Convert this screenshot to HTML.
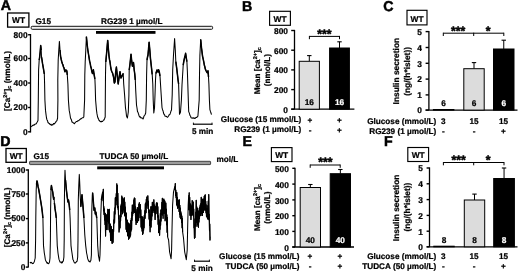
<!DOCTYPE html>
<html><head><meta charset="utf-8"><style>
html,body{margin:0;padding:0;background:#fff;width:520px;height:272px;overflow:hidden}
svg{display:block;filter:blur(0.3px)}
text{font-family:'Liberation Sans', Arial, sans-serif;fill:#000;stroke:#000;stroke-width:0.22px;text-rendering:geometricPrecision}
</style></head><body>
<svg width="520" height="272" viewBox="0 0 520 272">
<rect width="520" height="272" fill="#fff"/>
<text x="0.7" y="10.4" font-size="14.2" text-anchor="start" font-weight="bold"  style="stroke-width:0.5px">A</text>
<rect x="7.6" y="13" width="21.3" height="14.1" fill="none" stroke="#000" stroke-width="1.3" />
<text x="18.6" y="23.1" font-size="8.4" text-anchor="middle" font-weight="bold" >WT</text>
<text x="35.5" y="24.2" font-size="8.2" text-anchor="start" font-weight="bold" >G15</text>
<text x="101" y="24.2" font-size="8.2" text-anchor="start" font-weight="bold" >RG239 1 µmol/L</text>
<rect x="31.2" y="26.3" width="181.4" height="3.0" fill="#f0f0f0" stroke="#111" stroke-width="1.0" rx="1.0"/>
<rect x="96" y="31" width="59.5" height="2.8" fill="#000" stroke="none" stroke-width="0" />
<line x1="30.5" y1="34.0" x2="30.5" y2="132.5" stroke="#000" stroke-width="1.3"/>
<line x1="28.1" y1="34.75" x2="30.5" y2="34.75" stroke="#000" stroke-width="1.4"/>
<text x="27.6" y="37.55" font-size="8.4" text-anchor="end" font-weight="bold" >800</text>
<line x1="28.1" y1="58.5" x2="30.5" y2="58.5" stroke="#000" stroke-width="1.4"/>
<text x="27.6" y="61.3" font-size="8.4" text-anchor="end" font-weight="bold" >600</text>
<line x1="28.1" y1="83" x2="30.5" y2="83" stroke="#000" stroke-width="1.4"/>
<text x="27.6" y="85.8" font-size="8.4" text-anchor="end" font-weight="bold" >400</text>
<line x1="28.1" y1="107.5" x2="30.5" y2="107.5" stroke="#000" stroke-width="1.4"/>
<text x="27.6" y="110.3" font-size="8.4" text-anchor="end" font-weight="bold" >200</text>
<line x1="28.1" y1="131.8" x2="30.5" y2="131.8" stroke="#000" stroke-width="1.4"/>
<text x="27.6" y="134.60000000000002" font-size="8.4" text-anchor="end" font-weight="bold" >0</text>
<text transform="translate(9.9,81) rotate(-90)" font-size="8.2" font-weight="bold" text-anchor="middle">[Ca<tspan font-size="5.5" dy="-3">2+</tspan><tspan dy="3">]</tspan><tspan font-size="5.5" dy="1.5">c</tspan><tspan dy="-1.5"> (nmol/L)</tspan></text>
<polyline points="31.20,126.80 32.00,126.00 32.50,125.53 33.00,125.20 33.50,125.05 34.00,125.33 34.50,124.50 35.00,124.25 35.50,124.11 36.00,123.90 36.60,123.07 37.20,122.00 38.00,120.40 38.30,100.00 38.60,70.00 39.20,60.00 39.60,57.50 40.20,52.00 40.70,45.50 41.20,50.00 41.50,57.00 42.00,59.76 42.50,63.40 43.00,66.22 43.50,69.00 44.30,74.00 44.60,84.00 44.90,100.00 45.50,110.40 46.00,114.38 46.50,118.00 47.00,119.98 47.50,120.57 48.00,122.70 48.50,122.82 49.00,123.50 49.50,123.48 50.00,124.60 50.50,124.83 51.00,124.20 51.50,125.20 52.00,125.12 52.50,124.50 53.00,124.80 53.50,123.51 54.00,123.50 54.50,123.88 55.00,122.90 55.50,122.85 56.00,121.50 56.50,121.17 57.00,120.40 57.60,118.00 57.90,100.00 57.80,80.00 58.20,60.00 58.80,50.00 59.40,41.40 60.00,50.00 60.50,56.00 61.25,59.70 61.88,62.01 62.50,64.00 63.00,65.02 63.50,67.00 64.00,67.89 64.50,70.17 65.00,71.70 65.50,70.23 66.00,70.00 66.80,70.80 67.30,75.00 67.90,84.00 68.40,100.00 69.20,110.40 69.85,113.77 70.50,118.00 71.00,118.97 71.50,120.01 72.00,122.00 72.50,122.25 73.00,122.60 73.50,122.97 74.00,123.50 74.50,123.63 75.00,122.80 75.50,122.40 76.30,121.50 77.00,121.60 77.50,121.13 78.00,120.60 78.50,120.70 79.00,120.40 79.50,119.95 80.00,119.50 80.50,118.80 81.00,118.88 81.50,118.50 82.00,118.00 82.50,117.84 83.00,117.80 83.80,117.00 84.60,100.00 84.80,75.00 85.20,62.00 85.80,50.00 86.40,36.80 87.20,45.00 87.90,50.50 88.80,56.00 89.70,61.60 90.20,63.42 90.70,66.56 91.20,68.00 91.85,71.44 92.50,73.50 93.40,69.80 94.00,74.00 94.90,79.00 95.20,86.00 95.60,100.00 96.50,110.40 97.00,113.93 97.50,116.50 98.00,118.09 98.50,118.84 99.00,120.40 99.50,120.52 100.00,121.40 100.50,121.40 101.00,122.00 101.50,121.20 102.00,121.60 102.50,121.57 103.00,120.80 103.50,119.99 104.00,119.95 104.50,118.80 105.20,117.00 105.30,100.00 105.50,75.00 105.80,62.00 106.70,52.00 107.20,46.04 107.70,40.40 108.30,48.00 109.00,56.00 109.50,59.64 110.00,62.00 110.80,68.00 111.40,70.49 112.00,72.00 112.53,73.03 113.07,75.06 113.60,77.20 114.30,83.00 115.00,81.80 115.70,72.00 116.40,67.00 117.20,75.00 117.70,80.07 118.20,84.00 119.00,78.00 119.50,74.81 120.00,71.70 120.50,75.52 121.00,78.00 121.90,76.30 122.55,74.76 123.20,73.50 123.70,84.00 124.60,95.00 125.50,108.00 126.00,111.40 126.50,116.00 127.40,118.00 128.30,112.00 128.90,95.00 129.20,70.00 130.00,64.00 130.50,59.28 131.00,54.20 131.60,60.00 132.40,66.20 132.95,64.74 133.50,62.50 134.20,70.00 134.70,73.50 135.30,80.00 135.70,90.00 136.50,105.00 137.00,107.98 137.50,111.60 138.00,112.32 138.50,113.97 139.00,115.50 139.50,116.77 140.00,117.11 140.50,116.84 141.00,118.00 141.50,117.89 142.00,117.94 142.50,118.13 143.00,119.00 143.50,117.92 144.00,116.00 144.90,115.00 145.70,113.00 146.30,100.00 146.60,75.00 147.00,60.00 147.50,57.05 148.00,55.00 148.55,48.73 149.10,42.30 149.80,50.00 150.40,57.90 151.30,66.00 152.20,74.40 152.80,84.00 153.20,100.00 153.80,113.00 154.50,108.00 155.00,95.00 155.50,80.00 155.90,73.50 156.45,71.68 157.00,70.00 157.50,70.57 158.00,72.00 158.60,69.80 159.30,72.00 160.00,76.00 160.50,84.00 161.20,95.00 162.00,107.50 162.50,109.66 163.00,110.65 163.50,113.00 164.00,114.27 164.50,114.60 165.00,116.20 165.50,116.29 166.00,116.20 166.50,116.48 167.00,117.00 167.50,117.33 168.00,116.76 168.50,116.00 169.10,114.86 169.70,114.81 170.30,113.40 170.90,111.29 171.50,110.00 172.20,95.00 172.70,70.00 173.50,55.00 174.60,38.60 175.30,50.00 175.80,61.60 176.30,65.15 176.80,69.00 177.50,75.00 178.05,80.00 178.60,84.00 179.10,100.00 179.50,114.30 180.00,113.35 180.50,112.00 181.40,100.00 182.00,85.00 183.20,65.20 183.85,61.04 184.50,58.00 185.05,56.34 185.60,53.30 186.30,58.00 186.90,61.60 187.40,72.00 187.80,84.00 188.30,100.00 188.70,111.60 189.35,113.15 190.00,115.50 190.50,115.99 191.00,117.55 191.50,118.00 192.00,117.89 192.50,117.98 193.00,118.40 193.53,117.80 194.05,117.83 194.57,118.52 195.10,118.40 195.80,117.59 196.50,117.50 197.20,116.99 197.90,116.20 199.20,100.00 199.50,75.00 199.90,55.00 200.70,39.50 201.50,48.00 202.00,51.82 202.50,56.00 203.15,58.93 203.80,62.00 204.30,64.98 204.80,66.64 205.30,69.00 206.20,71.00 207.10,72.60 208.00,70.80 208.50,77.00 208.90,84.00 209.40,100.00 209.90,109.70 210.45,111.45 211.00,113.00 211.50,114.60" fill="none" stroke="#000" stroke-width="1.05" stroke-linejoin="round"/>
<polyline points="39.20,60.00 39.60,57.50 40.20,52.00 40.70,45.50 41.20,50.00" fill="none" stroke="#000" stroke-width="1.5" stroke-linejoin="round"/>
<polyline points="41.50,57.00 42.00,59.76 42.50,63.40 43.00,66.22 43.50,69.00 44.30,74.00" fill="none" stroke="#000" stroke-width="1.5" stroke-linejoin="round"/>
<polyline points="60.00,50.00 60.50,56.00 61.25,59.70 61.88,62.01 62.50,64.00 63.00,65.02 63.50,67.00 64.00,67.89 64.50,70.17 65.00,71.70 65.50,70.23 66.00,70.00 66.80,70.80 67.30,75.00" fill="none" stroke="#000" stroke-width="1.5" stroke-linejoin="round"/>
<polyline points="86.40,36.80 87.20,45.00 87.90,50.50 88.80,56.00 89.70,61.60 90.20,63.42 90.70,66.56 91.20,68.00 91.85,71.44 92.50,73.50 93.40,69.80 94.00,74.00 94.90,79.00" fill="none" stroke="#000" stroke-width="1.5" stroke-linejoin="round"/>
<polyline points="105.80,62.00 106.70,52.00 107.20,46.04 107.70,40.40 108.30,48.00 109.00,56.00 109.50,59.64 110.00,62.00 110.80,68.00 111.40,70.49 112.00,72.00 112.53,73.03 113.07,75.06 113.60,77.20 114.30,83.00 115.00,81.80 115.70,72.00 116.40,67.00 117.20,75.00 117.70,80.07 118.20,84.00 119.00,78.00 119.50,74.81 120.00,71.70 120.50,75.52 121.00,78.00 121.90,76.30 122.55,74.76 123.20,73.50" fill="none" stroke="#000" stroke-width="1.5" stroke-linejoin="round"/>
<polyline points="129.20,70.00 130.00,64.00 130.50,59.28 131.00,54.20 131.60,60.00 132.40,66.20 132.95,64.74 133.50,62.50 134.20,70.00 134.70,73.50 135.30,80.00" fill="none" stroke="#000" stroke-width="1.5" stroke-linejoin="round"/>
<polyline points="147.00,60.00 147.50,57.05 148.00,55.00 148.55,48.73 149.10,42.30 149.80,50.00 150.40,57.90 151.30,66.00 152.20,74.40" fill="none" stroke="#000" stroke-width="1.5" stroke-linejoin="round"/>
<polyline points="155.90,73.50 156.45,71.68 157.00,70.00 157.50,70.57 158.00,72.00 158.60,69.80 159.30,72.00 160.00,76.00" fill="none" stroke="#000" stroke-width="1.5" stroke-linejoin="round"/>
<polyline points="175.80,61.60 176.30,65.15 176.80,69.00 177.50,75.00 178.05,80.00 178.60,84.00" fill="none" stroke="#000" stroke-width="1.5" stroke-linejoin="round"/>
<polyline points="183.20,65.20 183.85,61.04 184.50,58.00 185.05,56.34 185.60,53.30 186.30,58.00 186.90,61.60" fill="none" stroke="#000" stroke-width="1.5" stroke-linejoin="round"/>
<polyline points="200.70,39.50 201.50,48.00 202.00,51.82 202.50,56.00 203.15,58.93 203.80,62.00 204.30,64.98 204.80,66.64 205.30,69.00 206.20,71.00 207.10,72.60 208.00,70.80 208.50,77.00" fill="none" stroke="#000" stroke-width="1.5" stroke-linejoin="round"/>
<line x1="193" y1="124.2" x2="212.4" y2="124.2" stroke="#000" stroke-width="1.2"/>
<line x1="193.4" y1="122.6" x2="193.4" y2="124.8" stroke="#000" stroke-width="0.9"/>
<line x1="212" y1="122.6" x2="212" y2="124.8" stroke="#000" stroke-width="0.9"/>
<text x="202.6" y="133.6" font-size="8.2" text-anchor="middle" font-weight="bold" >5 min</text>
<text x="0.3" y="145.6" font-size="14.2" text-anchor="start" font-weight="bold"  style="stroke-width:0.5px">D</text>
<rect x="6" y="148.5" width="20.3" height="13.8" fill="none" stroke="#000" stroke-width="1.3" />
<text x="16.2" y="158.8" font-size="8.4" text-anchor="middle" font-weight="bold" >WT</text>
<text x="33.5" y="158.8" font-size="8.2" text-anchor="start" font-weight="bold" >G15</text>
<text x="99.6" y="158.8" font-size="8.2" text-anchor="start" font-weight="bold" >TUDCA 50 µmol/L</text>
<text x="216.4" y="162.3" font-size="8.2" text-anchor="start" font-weight="bold" >mol/L</text>
<rect x="29.6" y="161.3" width="181.0" height="3.3" fill="#9c9c9c" stroke="#333" stroke-width="0.9" rx="0.6"/>
<rect x="97.2" y="166.4" width="66.8" height="2.9" fill="#000" stroke="none" stroke-width="0" />
<line x1="28.3" y1="169.3" x2="28.3" y2="267.5" stroke="#000" stroke-width="1.3"/>
<line x1="25.9" y1="170" x2="28.3" y2="170" stroke="#000" stroke-width="1.4"/>
<text x="25.4" y="172.8" font-size="8.4" text-anchor="end" font-weight="bold" >1000</text>
<line x1="25.9" y1="194" x2="28.3" y2="194" stroke="#000" stroke-width="1.4"/>
<text x="25.4" y="196.8" font-size="8.4" text-anchor="end" font-weight="bold" >750</text>
<line x1="25.9" y1="218.6" x2="28.3" y2="218.6" stroke="#000" stroke-width="1.4"/>
<text x="25.4" y="221.4" font-size="8.4" text-anchor="end" font-weight="bold" >500</text>
<line x1="25.9" y1="242.9" x2="28.3" y2="242.9" stroke="#000" stroke-width="1.4"/>
<text x="25.4" y="245.70000000000002" font-size="8.4" text-anchor="end" font-weight="bold" >250</text>
<line x1="25.9" y1="267.1" x2="28.3" y2="267.1" stroke="#000" stroke-width="1.4"/>
<text x="25.4" y="269.90000000000003" font-size="8.4" text-anchor="end" font-weight="bold" >0</text>
<text transform="translate(9.7,217.4) rotate(-90)" font-size="8.2" font-weight="bold" text-anchor="middle">[Ca<tspan font-size="5.5" dy="-3">2+</tspan><tspan dy="3">]</tspan><tspan font-size="5.5" dy="1.5">c</tspan><tspan dy="-1.5"> (nmol/L)</tspan></text>
<polyline points="30.00,262.00 30.60,262.91 31.20,262.36 31.80,262.72 32.40,263.60 33.03,263.56 33.67,262.81 34.30,261.75 35.20,258.00 35.60,240.00 35.80,218.00 36.20,190.00 36.50,184.50 37.00,180.90 37.50,183.00 38.00,186.40 38.50,188.35 39.00,191.00 39.80,195.60 40.70,201.00 41.60,206.60 42.30,212.00 42.90,218.00 43.50,245.60 44.30,253.00 44.80,255.77 45.30,259.40 45.90,261.04 46.50,262.00 47.00,263.15 47.50,262.64 48.00,263.60 48.50,263.70 49.00,263.07 49.50,262.00 50.00,258.00 50.40,240.00 50.60,210.00 51.00,190.00 51.40,185.50 52.00,189.00 52.70,191.90 53.60,199.25 54.00,197.00 54.40,203.00 55.00,208.40 55.70,213.00 56.30,218.00 57.25,245.60 58.00,253.00 58.50,256.34 59.00,259.40 59.50,260.59 60.00,262.00 60.65,261.95 61.30,263.00 61.80,261.90 62.30,262.75 62.80,261.28 63.30,261.20 63.90,257.00 64.20,240.00 64.40,200.00 64.70,180.00 65.00,170.20 65.50,180.00 66.40,190.00 67.10,196.00 67.90,202.00 68.50,200.00 69.20,204.80 69.70,210.00 70.10,218.00 71.00,245.60 71.50,249.59 72.00,253.00 72.90,259.40 73.45,260.36 74.00,262.00 74.65,262.95 75.30,263.00 75.90,262.54 76.50,261.51 77.10,261.20 77.70,257.00 78.00,240.00 78.30,200.00 78.80,185.00 79.30,174.40 79.80,185.00 80.20,195.60 80.80,206.60 81.40,200.00 82.00,194.70 82.70,203.00 83.30,210.00 83.90,218.00 84.80,235.00 85.70,245.60 86.60,253.00 87.10,255.25 87.60,258.40 88.30,260.26 89.00,261.50 89.50,261.20 90.00,262.10 90.90,260.30 91.40,255.00 91.60,235.00 91.80,210.00 92.30,195.00 92.60,192.80 93.20,200.00 94.00,210.30 94.80,208.00 95.30,214.00 95.90,212.10 96.40,216.00 96.80,218.00 97.70,245.60 98.50,256.00 99.00,258.22 99.50,261.20 100.00,255.00 100.40,240.00 100.80,215.00 101.40,200.00 102.10,196.03 102.80,191.90 103.05,200.76 103.30,189.35 103.55,210.83 103.80,206.64 104.05,214.41 104.30,208.78 104.55,220.02 104.80,213.32 105.05,224.40 105.30,213.27 105.55,235.94 105.80,214.37 106.05,229.40 106.30,221.08 106.55,227.94 106.80,215.41 107.05,229.58 107.30,214.31 107.55,221.31 107.80,209.37 108.05,220.83 108.30,209.69 108.55,222.98 108.80,215.06 109.05,229.81 109.31,209.35 109.56,231.27 109.81,224.70 110.06,232.28 110.31,224.11 110.56,240.40 110.81,226.02 111.06,239.85 111.31,226.48 111.56,240.58 111.81,233.19 112.06,243.19 112.31,229.49 112.56,242.87 112.81,236.33 113.06,242.28 113.31,229.95 113.56,231.79 113.81,219.85 114.06,223.61 114.31,211.47 114.56,222.50 114.81,207.89 115.06,213.99 115.31,197.90 115.56,207.35 115.81,197.39 116.06,204.74 116.31,193.53 116.56,197.85 116.81,183.89 117.06,200.50 117.31,185.38 117.56,207.48 117.81,193.19 118.06,209.13 118.31,206.29 118.56,218.78 118.81,215.59 119.06,231.98 119.31,226.62 119.56,229.31 119.81,221.45 120.06,227.76 120.31,214.91 120.56,221.07 120.81,205.88 121.06,216.75 121.31,204.05 121.56,210.92 121.81,196.01 122.06,205.58 122.32,197.63 122.57,213.78 122.82,198.17 123.07,212.34 123.32,200.52 123.57,208.18 123.82,199.22 124.07,209.81 124.32,197.88 124.57,215.36 124.82,202.06 125.07,216.10 125.32,206.90 125.57,219.72 125.82,215.18 126.07,229.13 126.32,213.09 126.57,231.60 126.82,220.41 127.07,228.97 127.32,220.17 127.57,235.80 127.82,222.46 128.07,233.18 128.32,223.13 128.57,239.13 128.82,228.66 129.07,236.91 129.32,223.91 129.57,237.97 129.82,226.17 130.07,236.72 130.32,225.55 130.57,235.28 130.82,220.33 131.07,230.96 131.32,218.17 131.57,229.45 131.82,212.00 132.07,220.13 132.32,205.11 132.57,215.73 132.82,206.76 133.07,213.48 133.32,205.20 133.57,211.82 133.82,199.84 134.07,209.97 134.32,198.09 134.57,212.41 134.82,198.37 135.07,209.06 135.33,206.57 135.58,220.32 135.83,211.92 136.08,224.45 136.33,214.99 136.58,221.40 136.83,209.52 137.08,222.53 137.33,207.59 137.58,221.89 137.83,209.31 138.08,219.83 138.33,208.56 138.58,220.51 138.83,203.98 139.08,217.61 139.33,202.67 139.58,212.66 139.83,205.85 140.08,212.64 140.33,204.59 140.58,217.65 140.83,209.89 141.08,227.03 141.33,217.33 141.58,228.23 141.83,216.59 142.08,231.09 142.33,224.26 142.58,234.49 142.83,217.01 143.08,233.31 143.33,223.14 143.58,230.17 143.83,219.23 144.08,227.68 144.33,215.35 144.58,219.03 144.83,210.63 145.08,218.15 145.33,203.90 145.58,213.57 145.83,202.85 146.08,212.43 146.33,199.32 146.58,207.59 146.83,196.95 147.08,204.93 147.33,198.05 147.58,204.70 147.83,195.75 148.08,208.39 148.34,201.13 148.59,212.52 148.84,209.54 149.09,219.08 149.34,209.95 149.59,225.55 149.84,214.72 150.09,231.82 150.34,218.02 150.59,226.76 150.84,206.70 151.09,227.05 151.34,211.70 151.59,220.21 151.84,206.43 152.09,215.90 152.34,202.34 152.59,212.36 152.84,203.16 153.09,209.04 153.34,202.87 153.59,210.19 153.84,199.78 154.09,212.59 154.34,204.74 154.59,212.81 154.84,206.00 155.09,219.37 155.34,206.95 155.59,214.27 155.84,206.76 156.09,213.55 156.34,203.58 156.59,208.55 156.84,202.49 157.09,208.73 157.34,203.22 157.59,216.96 157.84,206.67 158.09,224.29 158.34,215.56 158.59,232.56 158.84,219.76 159.09,232.67 159.34,221.95 159.59,235.19 159.84,222.56 160.09,229.18 160.34,213.61 160.59,225.25 160.84,209.96 161.09,221.05 161.35,209.21 161.60,213.08 161.85,202.23 162.10,214.47 162.35,198.29 162.60,215.11 162.85,201.57 163.10,218.34 163.35,199.47 163.60,209.18 163.85,199.00 164.10,213.15 164.35,200.35 164.60,212.64 164.85,200.96 165.10,220.82 165.35,207.60 165.60,219.34 165.85,202.96 166.10,217.18 166.35,208.96 166.60,224.80 166.85,214.76 167.10,232.17 167.35,217.22 167.60,236.85 168.60,240.00 169.60,252.00 171.10,258.80 171.60,250.00 172.00,230.00 172.60,205.00 173.50,192.00 174.80,186.40 175.05,189.86 175.30,183.59 175.55,195.37 175.81,190.03 176.06,197.36 176.31,193.63 176.56,204.50 176.81,192.57 177.06,205.78 177.32,197.16 177.57,208.18 177.82,199.84 178.07,206.47 178.32,200.61 178.57,207.26 178.83,202.83 179.08,211.49 179.33,199.75 179.58,214.15 179.83,205.26 180.08,217.25 180.34,207.92 180.59,218.29 180.84,211.87 181.09,218.70 181.34,213.69 181.59,222.48 181.85,215.92 182.10,227.81 182.35,218.15 182.60,231.69 183.50,238.00 184.70,252.00 186.30,259.70 187.20,250.00 187.60,230.00 188.20,205.00 188.70,195.40 188.95,209.75 189.20,192.74 189.45,209.53 189.70,197.36 189.95,215.24 190.20,203.57 190.45,215.53 190.70,204.65 190.96,219.41 191.21,205.97 191.46,214.61 191.71,206.83 191.96,215.33 192.21,200.61 192.46,213.51 192.71,201.44 192.96,214.47 193.21,202.10 193.46,215.92 193.71,208.94 193.96,227.71 194.21,224.29 194.46,238.17 194.71,227.98 194.96,237.49 195.22,218.86 195.47,226.09 195.72,212.15 195.97,222.32 196.22,200.28 196.47,217.08 196.72,206.81 196.97,226.16 197.22,211.20 197.47,224.40 197.72,208.26 197.97,220.55 198.22,212.28 198.47,227.15 198.72,211.06 198.97,221.98 199.22,213.10 199.48,218.40 199.73,206.94 199.98,215.63 200.23,204.94 200.48,215.56 200.73,203.63 200.98,213.26 201.23,197.35 201.48,212.11 201.73,198.85 201.98,215.53 202.23,203.23 202.48,215.55 202.73,199.21 202.98,211.93 203.23,200.98 203.48,212.57 203.74,198.74 203.99,208.72 204.24,196.35 204.49,209.85 204.74,195.58 204.99,209.92 205.24,194.82 205.49,207.84 205.74,201.33 205.99,212.66 206.24,204.79 206.49,216.77 206.74,208.27 206.99,216.68 207.24,209.03 207.49,218.62 207.74,205.59 208.00,218.94 208.25,201.06 208.50,210.95 208.75,194.45 209.00,219.62 209.25,214.15 209.50,230.74 209.75,224.10 210.00,240.20 210.20,236.70" fill="none" stroke="#000" stroke-width="1.05" stroke-linejoin="round"/>
<polyline points="36.50,184.50 37.00,180.90 37.50,183.00 38.00,186.40 38.50,188.35 39.00,191.00 39.80,195.60 40.70,201.00 41.60,206.60 42.30,212.00 42.90,218.00" fill="none" stroke="#000" stroke-width="1.5" stroke-linejoin="round"/>
<polyline points="51.00,190.00 51.40,185.50 52.00,189.00 52.70,191.90 53.60,199.25 54.00,197.00" fill="none" stroke="#000" stroke-width="1.5" stroke-linejoin="round"/>
<polyline points="54.40,203.00 55.00,208.40 55.70,213.00 56.30,218.00" fill="none" stroke="#000" stroke-width="1.5" stroke-linejoin="round"/>
<polyline points="65.50,180.00 66.40,190.00 67.10,196.00 67.90,202.00 68.50,200.00 69.20,204.80 69.70,210.00" fill="none" stroke="#000" stroke-width="1.5" stroke-linejoin="round"/>
<polyline points="80.80,206.60 81.40,200.00 82.00,194.70 82.70,203.00 83.30,210.00 83.90,218.00" fill="none" stroke="#000" stroke-width="1.5" stroke-linejoin="round"/>
<polyline points="92.60,192.80 93.20,200.00 94.00,210.30 94.80,208.00 95.30,214.00 95.90,212.10 96.40,216.00 96.80,218.00" fill="none" stroke="#000" stroke-width="1.5" stroke-linejoin="round"/>
<polyline points="101.40,200.00 102.10,196.03 102.80,191.90" fill="none" stroke="#000" stroke-width="1.5" stroke-linejoin="round"/>
<polyline points="103.05,200.76 103.30,189.35 103.55,210.83 103.80,206.64 104.05,214.41 104.30,208.78 104.55,220.02 104.80,213.32 105.05,224.40 105.30,213.27 105.55,235.94 105.80,214.37 106.05,229.40 106.30,221.08 106.55,227.94 106.80,215.41 107.05,229.58 107.30,214.31 107.55,221.31 107.80,209.37 108.05,220.83 108.30,209.69 108.55,222.98 108.80,215.06 109.05,229.81 109.31,209.35 109.56,231.27 109.81,224.70 110.06,232.28 110.31,224.11 110.56,240.40 110.81,226.02 111.06,239.85 111.31,226.48 111.56,240.58 111.81,233.19 112.06,243.19 112.31,229.49 112.56,242.87 112.81,236.33 113.06,242.28 113.31,229.95 113.56,231.79 113.81,219.85 114.06,223.61 114.31,211.47 114.56,222.50 114.81,207.89 115.06,213.99 115.31,197.90 115.56,207.35 115.81,197.39 116.06,204.74 116.31,193.53 116.56,197.85 116.81,183.89 117.06,200.50 117.31,185.38 117.56,207.48 117.81,193.19 118.06,209.13 118.31,206.29 118.56,218.78 118.81,215.59 119.06,231.98 119.31,226.62 119.56,229.31 119.81,221.45 120.06,227.76 120.31,214.91 120.56,221.07 120.81,205.88 121.06,216.75 121.31,204.05 121.56,210.92 121.81,196.01 122.06,205.58 122.32,197.63 122.57,213.78 122.82,198.17 123.07,212.34 123.32,200.52 123.57,208.18 123.82,199.22 124.07,209.81 124.32,197.88 124.57,215.36 124.82,202.06 125.07,216.10 125.32,206.90 125.57,219.72 125.82,215.18 126.07,229.13 126.32,213.09 126.57,231.60 126.82,220.41 127.07,228.97 127.32,220.17 127.57,235.80 127.82,222.46 128.07,233.18 128.32,223.13 128.57,239.13 128.82,228.66 129.07,236.91 129.32,223.91 129.57,237.97 129.82,226.17 130.07,236.72 130.32,225.55 130.57,235.28 130.82,220.33 131.07,230.96 131.32,218.17 131.57,229.45 131.82,212.00 132.07,220.13 132.32,205.11 132.57,215.73 132.82,206.76 133.07,213.48 133.32,205.20 133.57,211.82 133.82,199.84 134.07,209.97 134.32,198.09 134.57,212.41 134.82,198.37 135.07,209.06 135.33,206.57 135.58,220.32 135.83,211.92 136.08,224.45 136.33,214.99 136.58,221.40 136.83,209.52 137.08,222.53 137.33,207.59 137.58,221.89 137.83,209.31 138.08,219.83 138.33,208.56 138.58,220.51 138.83,203.98 139.08,217.61 139.33,202.67 139.58,212.66 139.83,205.85 140.08,212.64 140.33,204.59 140.58,217.65 140.83,209.89 141.08,227.03 141.33,217.33 141.58,228.23 141.83,216.59 142.08,231.09 142.33,224.26 142.58,234.49 142.83,217.01 143.08,233.31 143.33,223.14 143.58,230.17 143.83,219.23 144.08,227.68 144.33,215.35 144.58,219.03 144.83,210.63 145.08,218.15 145.33,203.90 145.58,213.57 145.83,202.85 146.08,212.43 146.33,199.32 146.58,207.59 146.83,196.95 147.08,204.93 147.33,198.05 147.58,204.70 147.83,195.75 148.08,208.39 148.34,201.13 148.59,212.52 148.84,209.54 149.09,219.08 149.34,209.95 149.59,225.55 149.84,214.72 150.09,231.82 150.34,218.02 150.59,226.76 150.84,206.70 151.09,227.05 151.34,211.70 151.59,220.21 151.84,206.43 152.09,215.90 152.34,202.34 152.59,212.36 152.84,203.16 153.09,209.04 153.34,202.87 153.59,210.19 153.84,199.78 154.09,212.59 154.34,204.74 154.59,212.81 154.84,206.00 155.09,219.37 155.34,206.95 155.59,214.27 155.84,206.76 156.09,213.55 156.34,203.58 156.59,208.55 156.84,202.49 157.09,208.73 157.34,203.22 157.59,216.96 157.84,206.67 158.09,224.29 158.34,215.56 158.59,232.56 158.84,219.76 159.09,232.67 159.34,221.95 159.59,235.19 159.84,222.56 160.09,229.18 160.34,213.61 160.59,225.25 160.84,209.96 161.09,221.05 161.35,209.21 161.60,213.08 161.85,202.23 162.10,214.47 162.35,198.29 162.60,215.11 162.85,201.57 163.10,218.34 163.35,199.47 163.60,209.18 163.85,199.00 164.10,213.15 164.35,200.35 164.60,212.64 164.85,200.96 165.10,220.82 165.35,207.60 165.60,219.34 165.85,202.96 166.10,217.18 166.35,208.96 166.60,224.80 166.85,214.76 167.10,232.17 167.35,217.22 167.60,236.85" fill="none" stroke="#000" stroke-width="1.1" stroke-linejoin="round"/>
<polyline points="175.05,189.86 175.30,183.59 175.55,195.37 175.81,190.03 176.06,197.36 176.31,193.63 176.56,204.50 176.81,192.57 177.06,205.78 177.32,197.16 177.57,208.18 177.82,199.84 178.07,206.47 178.32,200.61 178.57,207.26 178.83,202.83 179.08,211.49 179.33,199.75 179.58,214.15 179.83,205.26 180.08,217.25 180.34,207.92 180.59,218.29 180.84,211.87 181.09,218.70 181.34,213.69 181.59,222.48 181.85,215.92 182.10,227.81 182.35,218.15 182.60,231.69" fill="none" stroke="#000" stroke-width="1.1" stroke-linejoin="round"/>
<polyline points="188.95,209.75 189.20,192.74 189.45,209.53 189.70,197.36 189.95,215.24 190.20,203.57 190.45,215.53 190.70,204.65 190.96,219.41 191.21,205.97 191.46,214.61 191.71,206.83 191.96,215.33 192.21,200.61 192.46,213.51 192.71,201.44 192.96,214.47 193.21,202.10 193.46,215.92 193.71,208.94 193.96,227.71 194.21,224.29 194.46,238.17 194.71,227.98 194.96,237.49 195.22,218.86 195.47,226.09 195.72,212.15 195.97,222.32 196.22,200.28 196.47,217.08 196.72,206.81 196.97,226.16 197.22,211.20 197.47,224.40 197.72,208.26 197.97,220.55 198.22,212.28 198.47,227.15 198.72,211.06 198.97,221.98 199.22,213.10 199.48,218.40 199.73,206.94 199.98,215.63 200.23,204.94 200.48,215.56 200.73,203.63 200.98,213.26 201.23,197.35 201.48,212.11 201.73,198.85 201.98,215.53 202.23,203.23 202.48,215.55 202.73,199.21 202.98,211.93 203.23,200.98 203.48,212.57 203.74,198.74 203.99,208.72 204.24,196.35 204.49,209.85 204.74,195.58 204.99,209.92 205.24,194.82 205.49,207.84 205.74,201.33 205.99,212.66 206.24,204.79 206.49,216.77 206.74,208.27 206.99,216.68 207.24,209.03 207.49,218.62 207.74,205.59 208.00,218.94 208.25,201.06 208.50,210.95 208.75,194.45 209.00,219.62 209.25,214.15 209.50,230.74 209.75,224.10 210.00,240.20" fill="none" stroke="#000" stroke-width="1.1" stroke-linejoin="round"/>
<line x1="194.1" y1="261.2" x2="209.75" y2="261.2" stroke="#000" stroke-width="1.2"/>
<line x1="194.5" y1="259.6" x2="194.5" y2="261.8" stroke="#000" stroke-width="0.9"/>
<line x1="209.4" y1="259.6" x2="209.4" y2="261.8" stroke="#000" stroke-width="0.9"/>
<text x="202" y="270.9" font-size="8.2" text-anchor="middle" font-weight="bold" >5 min</text>
<text x="242.1" y="11.0" font-size="14.2" text-anchor="start" font-weight="bold"  style="stroke-width:0.5px">B</text>
<rect x="269.6" y="11.3" width="20.8" height="14" fill="none" stroke="#000" stroke-width="1.15" />
<text x="280.0" y="22.0" font-size="8.4" text-anchor="middle" font-weight="bold" >WT</text>
<line x1="294.5" y1="29.9" x2="294.5" y2="109.2" stroke="#000" stroke-width="1.3"/>
<line x1="291.2" y1="109.2" x2="354.4" y2="109.2" stroke="#000" stroke-width="1.3"/>
<line x1="291.2" y1="30.5" x2="294.5" y2="30.5" stroke="#000" stroke-width="1.4"/>
<text x="288" y="33.8" font-size="8.4" text-anchor="end" font-weight="bold" >800</text>
<line x1="291.2" y1="50.2" x2="294.5" y2="50.2" stroke="#000" stroke-width="1.4"/>
<text x="288" y="53.5" font-size="8.4" text-anchor="end" font-weight="bold" >600</text>
<line x1="291.2" y1="69.9" x2="294.5" y2="69.9" stroke="#000" stroke-width="1.4"/>
<text x="288" y="73.2" font-size="8.4" text-anchor="end" font-weight="bold" >400</text>
<line x1="291.2" y1="89.6" x2="294.5" y2="89.6" stroke="#000" stroke-width="1.4"/>
<text x="288" y="92.89999999999999" font-size="8.4" text-anchor="end" font-weight="bold" >200</text>
<line x1="291.2" y1="109.2" x2="294.5" y2="109.2" stroke="#000" stroke-width="1.4"/>
<text x="288" y="112.5" font-size="8.4" text-anchor="end" font-weight="bold" >0</text>
<line x1="309.3" y1="55.6" x2="309.3" y2="61.3" stroke="#000" stroke-width="1"/>
<line x1="307.1" y1="55.6" x2="311.5" y2="55.6" stroke="#000" stroke-width="1.1"/>
<rect x="299.2" y="61.3" width="20.2" height="47.900000000000006" fill="#dedede" stroke="#000" stroke-width="1" />
<text x="309.3" y="105.0" font-size="8.3" text-anchor="middle" font-weight="bold" style="fill:#000;stroke:#000">16</text>
<line x1="339.5" y1="41.8" x2="339.5" y2="48" stroke="#000" stroke-width="1"/>
<line x1="337.3" y1="41.8" x2="341.7" y2="41.8" stroke="#000" stroke-width="1.1"/>
<rect x="329.6" y="48" width="19.8" height="61.2" fill="#000" stroke="#000" stroke-width="1" />
<text x="339.5" y="105.0" font-size="8.3" text-anchor="middle" font-weight="bold" style="fill:#fff;stroke:#fff">16</text>
<line x1="309.4" y1="36.4" x2="339.5" y2="36.4" stroke="#000" stroke-width="1"/>
<line x1="309.4" y1="35.9" x2="309.4" y2="39.199999999999996" stroke="#000" stroke-width="1"/>
<line x1="339.5" y1="35.9" x2="339.5" y2="39.199999999999996" stroke="#000" stroke-width="1"/>
<text x="324.3" y="37.8" font-size="12.2" text-anchor="middle" font-weight="bold"  style="stroke-width:0.5px">***</text>
<text transform="translate(259.7,70.8) rotate(-90)" font-size="8.2" font-weight="bold" text-anchor="middle">Mean [ca<tspan font-size="5.5" dy="-3">2+</tspan><tspan dy="3">]</tspan><tspan font-size="5.5" dy="1.5">c</tspan></text>
<text transform="translate(270,70.05) rotate(-90)" font-size="8.2" font-weight="bold" text-anchor="middle">(nmol/L)</text>
<text x="301.3" y="122.2" font-size="8.2" text-anchor="end" font-weight="bold" >Glucose (15 mmol/L)</text>
<text x="301.3" y="132.4" font-size="8.2" text-anchor="end" font-weight="bold" >RG239 (1 µmol/L)</text>
<text x="310" y="123.4" font-size="8.2" text-anchor="middle" font-weight="bold" >+</text>
<text x="339.5" y="123.4" font-size="8.2" text-anchor="middle" font-weight="bold" >+</text>
<text x="310" y="133.2" font-size="8.2" text-anchor="middle" font-weight="bold" >-</text>
<text x="339.5" y="133.2" font-size="8.2" text-anchor="middle" font-weight="bold" >+</text>
<text x="242.6" y="145.5" font-size="14.2" text-anchor="start" font-weight="bold"  style="stroke-width:0.5px">E</text>
<rect x="271.4" y="147.6" width="20.6" height="14.0" fill="none" stroke="#000" stroke-width="1.15" />
<text x="281.7" y="158.29999999999998" font-size="8.4" text-anchor="middle" font-weight="bold" >WT</text>
<line x1="295.0" y1="167.70000000000002" x2="295.0" y2="247" stroke="#000" stroke-width="1.3"/>
<line x1="292.3" y1="247" x2="354" y2="247" stroke="#000" stroke-width="1.3"/>
<line x1="292.3" y1="168.3" x2="295.0" y2="168.3" stroke="#000" stroke-width="1.4"/>
<text x="288.9" y="172.0" font-size="8.4" text-anchor="end" font-weight="bold" >500</text>
<line x1="292.3" y1="184.1" x2="295.0" y2="184.1" stroke="#000" stroke-width="1.4"/>
<text x="288.9" y="187.79999999999998" font-size="8.4" text-anchor="end" font-weight="bold" >400</text>
<line x1="292.3" y1="199.9" x2="295.0" y2="199.9" stroke="#000" stroke-width="1.4"/>
<text x="288.9" y="203.6" font-size="8.4" text-anchor="end" font-weight="bold" >300</text>
<line x1="292.3" y1="215.7" x2="295.0" y2="215.7" stroke="#000" stroke-width="1.4"/>
<text x="288.9" y="219.39999999999998" font-size="8.4" text-anchor="end" font-weight="bold" >200</text>
<line x1="292.3" y1="231.4" x2="295.0" y2="231.4" stroke="#000" stroke-width="1.4"/>
<text x="288.9" y="235.1" font-size="8.4" text-anchor="end" font-weight="bold" >100</text>
<line x1="292.3" y1="247" x2="295.0" y2="247" stroke="#000" stroke-width="1.4"/>
<text x="288.9" y="250.7" font-size="8.4" text-anchor="end" font-weight="bold" >0</text>
<line x1="310.34999999999997" y1="184.5" x2="310.34999999999997" y2="187.5" stroke="#000" stroke-width="1"/>
<line x1="308.15" y1="184.5" x2="312.54999999999995" y2="184.5" stroke="#000" stroke-width="1.1"/>
<rect x="300.2" y="187.5" width="20.3" height="59.5" fill="#dcdcdc" stroke="#000" stroke-width="1" />
<text x="310.34999999999997" y="242.8" font-size="8.3" text-anchor="middle" font-weight="bold" style="fill:#000;stroke:#000">40</text>
<line x1="340.34999999999997" y1="169.5" x2="340.34999999999997" y2="173.7" stroke="#000" stroke-width="1"/>
<line x1="338.15" y1="169.5" x2="342.54999999999995" y2="169.5" stroke="#000" stroke-width="1.1"/>
<rect x="330.2" y="173.7" width="20.3" height="73.30000000000001" fill="#000" stroke="#000" stroke-width="1" />
<text x="340.34999999999997" y="242.8" font-size="8.3" text-anchor="middle" font-weight="bold" style="fill:#fff;stroke:#fff">40</text>
<line x1="310.2" y1="165" x2="340.2" y2="165" stroke="#000" stroke-width="1"/>
<line x1="310.2" y1="164.5" x2="310.2" y2="167.8" stroke="#000" stroke-width="1"/>
<line x1="340.2" y1="164.5" x2="340.2" y2="167.8" stroke="#000" stroke-width="1"/>
<text x="325.4" y="166.1" font-size="12.2" text-anchor="middle" font-weight="bold"  style="stroke-width:0.5px">***</text>
<text transform="translate(259.7,207.55) rotate(-90)" font-size="8.2" font-weight="bold" text-anchor="middle">Mean [ca<tspan font-size="5.5" dy="-3">2+</tspan><tspan dy="3">]</tspan><tspan font-size="5.5" dy="1.5">c</tspan></text>
<text transform="translate(270,207.65) rotate(-90)" font-size="8.2" font-weight="bold" text-anchor="middle">(nmol/L)</text>
<text x="299.6" y="259.2" font-size="8.2" text-anchor="end" font-weight="bold" >Glucose (15 mmol/L)</text>
<text x="299.6" y="269.1" font-size="8.2" text-anchor="end" font-weight="bold" >TUDCA (50 µmol/L)</text>
<text x="310" y="259.2" font-size="8.2" text-anchor="middle" font-weight="bold" >+</text>
<text x="340" y="259.2" font-size="8.2" text-anchor="middle" font-weight="bold" >+</text>
<text x="310" y="268.6" font-size="8.2" text-anchor="middle" font-weight="bold" >-</text>
<text x="340" y="268.6" font-size="8.2" text-anchor="middle" font-weight="bold" >+</text>
<text x="383.3" y="11.3" font-size="14.2" text-anchor="start" font-weight="bold"  style="stroke-width:0.5px">C</text>
<rect x="407" y="10.3" width="20" height="14.6" fill="none" stroke="#000" stroke-width="1.15" />
<text x="417.0" y="21.599999999999998" font-size="8.4" text-anchor="middle" font-weight="bold" >WT</text>
<line x1="428.9" y1="31.0" x2="428.9" y2="110.1" stroke="#000" stroke-width="1.3"/>
<line x1="425.59999999999997" y1="110.1" x2="517.5" y2="110.1" stroke="#000" stroke-width="1.3"/>
<line x1="425.59999999999997" y1="31.6" x2="428.9" y2="31.6" stroke="#000" stroke-width="1.4"/>
<text x="422" y="34.9" font-size="8.4" text-anchor="end" font-weight="bold" >5</text>
<line x1="425.59999999999997" y1="47.5" x2="428.9" y2="47.5" stroke="#000" stroke-width="1.4"/>
<text x="422" y="50.8" font-size="8.4" text-anchor="end" font-weight="bold" >4</text>
<line x1="425.59999999999997" y1="63.3" x2="428.9" y2="63.3" stroke="#000" stroke-width="1.4"/>
<text x="422" y="66.6" font-size="8.4" text-anchor="end" font-weight="bold" >3</text>
<line x1="425.59999999999997" y1="79.1" x2="428.9" y2="79.1" stroke="#000" stroke-width="1.4"/>
<text x="422" y="82.39999999999999" font-size="8.4" text-anchor="end" font-weight="bold" >2</text>
<line x1="425.59999999999997" y1="94.9" x2="428.9" y2="94.9" stroke="#000" stroke-width="1.4"/>
<text x="422" y="98.2" font-size="8.4" text-anchor="end" font-weight="bold" >1</text>
<line x1="425.59999999999997" y1="110.1" x2="428.9" y2="110.1" stroke="#000" stroke-width="1.4"/>
<text x="422" y="113.39999999999999" font-size="8.4" text-anchor="end" font-weight="bold" >0</text>
<rect x="433.4" y="109.5" width="20.5" height="0.5999999999999943" fill="#000" stroke="#000" stroke-width="1" />
<text x="443.65" y="105.89999999999999" font-size="8.3" text-anchor="middle" font-weight="bold" style="fill:#000;stroke:#000">6</text>
<line x1="474.0" y1="62.6" x2="474.0" y2="68.7" stroke="#000" stroke-width="1"/>
<line x1="471.8" y1="62.6" x2="476.2" y2="62.6" stroke="#000" stroke-width="1.1"/>
<rect x="463.8" y="68.7" width="20.4" height="41.39999999999999" fill="#dcdcdc" stroke="#000" stroke-width="1" />
<text x="474.0" y="105.89999999999999" font-size="8.3" text-anchor="middle" font-weight="bold" style="fill:#000;stroke:#000">6</text>
<line x1="503.75" y1="40.2" x2="503.75" y2="49" stroke="#000" stroke-width="1"/>
<line x1="501.55" y1="40.2" x2="505.95" y2="40.2" stroke="#000" stroke-width="1.1"/>
<rect x="493.5" y="49" width="20.5" height="61.099999999999994" fill="#000" stroke="#000" stroke-width="1" />
<text x="503.75" y="105.89999999999999" font-size="8.3" text-anchor="middle" font-weight="bold" style="fill:#fff;stroke:#fff">6</text>
<line x1="443.3" y1="33.2" x2="503.8" y2="33.2" stroke="#000" stroke-width="1"/>
<line x1="443.3" y1="32.7" x2="443.3" y2="36.0" stroke="#000" stroke-width="1"/>
<line x1="503.8" y1="32.7" x2="503.8" y2="36.0" stroke="#000" stroke-width="1"/>
<line x1="473.7" y1="32.7" x2="473.7" y2="36.0" stroke="#000" stroke-width="1"/>
<text x="458.2" y="34.9" font-size="12.2" text-anchor="middle" font-weight="bold"  style="stroke-width:0.5px">***</text>
<text x="488.1" y="34.9" font-size="12.2" text-anchor="middle" font-weight="bold"  style="stroke-width:0.5px">*</text>
<text transform="translate(399.0,71.15) rotate(-90)" font-size="8.4" font-weight="bold" text-anchor="middle">Insulin secretion</text>
<text transform="translate(409.9,71.45) rotate(-90)" font-size="8.4" font-weight="bold" text-anchor="middle">(ng/(h*islet))</text>
<text x="436.3" y="123.6" font-size="8.2" text-anchor="end" font-weight="bold" >Glucose (mmol/L)</text>
<text x="436.3" y="133.8" font-size="8.2" text-anchor="end" font-weight="bold" >RG239 (1 µmol/L)</text>
<text x="443.3" y="123.6" font-size="8.2" text-anchor="middle" font-weight="bold" >3</text>
<text x="474" y="123.6" font-size="8.2" text-anchor="middle" font-weight="bold" >15</text>
<text x="503.5" y="123.6" font-size="8.2" text-anchor="middle" font-weight="bold" >15</text>
<text x="443.3" y="133.8" font-size="8.2" text-anchor="middle" font-weight="bold" >-</text>
<text x="474" y="133.8" font-size="8.2" text-anchor="middle" font-weight="bold" >-</text>
<text x="503.5" y="133.8" font-size="8.2" text-anchor="middle" font-weight="bold" >+</text>
<text x="383.9" y="145.6" font-size="14.2" text-anchor="start" font-weight="bold"  style="stroke-width:0.5px">F</text>
<rect x="407.8" y="147.5" width="20.8" height="14" fill="none" stroke="#000" stroke-width="1.15" />
<text x="418.2" y="158.2" font-size="8.4" text-anchor="middle" font-weight="bold" >WT</text>
<line x1="429.5" y1="167.4" x2="429.5" y2="246.8" stroke="#000" stroke-width="1.3"/>
<line x1="426.59999999999997" y1="246.8" x2="517.5" y2="246.8" stroke="#000" stroke-width="1.3"/>
<line x1="426.59999999999997" y1="168" x2="429.5" y2="168" stroke="#000" stroke-width="1.4"/>
<text x="423" y="171.3" font-size="8.4" text-anchor="end" font-weight="bold" >5</text>
<line x1="426.59999999999997" y1="183.8" x2="429.5" y2="183.8" stroke="#000" stroke-width="1.4"/>
<text x="423" y="187.10000000000002" font-size="8.4" text-anchor="end" font-weight="bold" >4</text>
<line x1="426.59999999999997" y1="199.6" x2="429.5" y2="199.6" stroke="#000" stroke-width="1.4"/>
<text x="423" y="202.9" font-size="8.4" text-anchor="end" font-weight="bold" >3</text>
<line x1="426.59999999999997" y1="215.4" x2="429.5" y2="215.4" stroke="#000" stroke-width="1.4"/>
<text x="423" y="218.70000000000002" font-size="8.4" text-anchor="end" font-weight="bold" >2</text>
<line x1="426.59999999999997" y1="231.2" x2="429.5" y2="231.2" stroke="#000" stroke-width="1.4"/>
<text x="423" y="234.5" font-size="8.4" text-anchor="end" font-weight="bold" >1</text>
<line x1="426.59999999999997" y1="246.8" x2="429.5" y2="246.8" stroke="#000" stroke-width="1.4"/>
<text x="423" y="250.10000000000002" font-size="8.4" text-anchor="end" font-weight="bold" >0</text>
<rect x="433.8" y="246.2" width="20.4" height="0.6000000000000227" fill="#000" stroke="#000" stroke-width="1" />
<text x="444.0" y="242.60000000000002" font-size="8.3" text-anchor="middle" font-weight="bold" style="fill:#000;stroke:#000">8</text>
<line x1="474.5" y1="194.1" x2="474.5" y2="200" stroke="#000" stroke-width="1"/>
<line x1="472.3" y1="194.1" x2="476.7" y2="194.1" stroke="#000" stroke-width="1.1"/>
<rect x="464.3" y="200" width="20.4" height="46.80000000000001" fill="#dcdcdc" stroke="#000" stroke-width="1" />
<text x="474.5" y="242.60000000000002" font-size="8.3" text-anchor="middle" font-weight="bold" style="fill:#000;stroke:#000">8</text>
<line x1="504.05" y1="168" x2="504.05" y2="178.5" stroke="#000" stroke-width="1"/>
<line x1="501.85" y1="168" x2="506.25" y2="168" stroke="#000" stroke-width="1.1"/>
<rect x="493.7" y="178.5" width="20.7" height="68.30000000000001" fill="#000" stroke="#000" stroke-width="1" />
<text x="504.05" y="242.60000000000002" font-size="8.3" text-anchor="middle" font-weight="bold" style="fill:#fff;stroke:#fff">8</text>
<line x1="443.4" y1="162.5" x2="504" y2="162.5" stroke="#000" stroke-width="1"/>
<line x1="443.4" y1="162.0" x2="443.4" y2="165.3" stroke="#000" stroke-width="1"/>
<line x1="504" y1="162.0" x2="504" y2="165.3" stroke="#000" stroke-width="1"/>
<line x1="473.7" y1="162.0" x2="473.7" y2="165.3" stroke="#000" stroke-width="1"/>
<text x="458.6" y="164.3" font-size="12.2" text-anchor="middle" font-weight="bold"  style="stroke-width:0.5px">***</text>
<text x="488.1" y="164.3" font-size="12.2" text-anchor="middle" font-weight="bold"  style="stroke-width:0.5px">*</text>
<text transform="translate(399.0,207.85) rotate(-90)" font-size="8.4" font-weight="bold" text-anchor="middle">Insulin secretion</text>
<text transform="translate(409.9,207.15) rotate(-90)" font-size="8.4" font-weight="bold" text-anchor="middle">(ng/(h*islet))</text>
<text x="436.3" y="258.9" font-size="8.2" text-anchor="end" font-weight="bold" >Glucose (mmol/L)</text>
<text x="436.3" y="269.1" font-size="8.2" text-anchor="end" font-weight="bold" >TUDCA (50 µmol/L)</text>
<text x="443.3" y="258.9" font-size="8.2" text-anchor="middle" font-weight="bold" >3</text>
<text x="474" y="258.9" font-size="8.2" text-anchor="middle" font-weight="bold" >15</text>
<text x="503.5" y="258.9" font-size="8.2" text-anchor="middle" font-weight="bold" >15</text>
<text x="443.3" y="269.1" font-size="8.2" text-anchor="middle" font-weight="bold" >-</text>
<text x="474" y="269.1" font-size="8.2" text-anchor="middle" font-weight="bold" >-</text>
<text x="503.5" y="269.1" font-size="8.2" text-anchor="middle" font-weight="bold" >+</text>
</svg>
</body></html>
